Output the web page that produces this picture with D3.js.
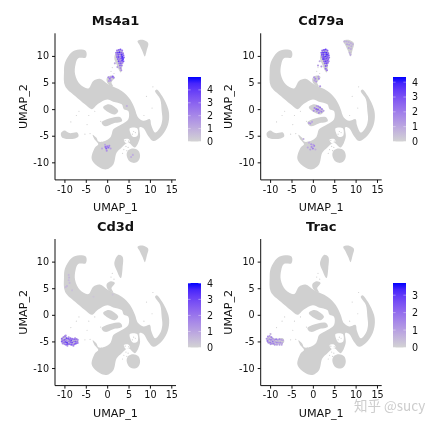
<!DOCTYPE html>
<html>
<head>
<meta charset="utf-8">
<script src="https://cdn.jsdelivr.net/npm/d3@7"></script>
<style>
html, body { margin: 0; padding: 0; background: #fff; }
svg { display: block; filter: blur(0.3px); }
text { font-family: "DejaVu Sans", sans-serif; fill: #111; }
</style>
</head>
<body>
<svg id="chart" width="438" height="425"></svg>
<script>
const genes = ['Ms4a1', 'Cd79a', 'Cd3d', 'Trac'];
const legendMax = [5.0, 4.35, 4.02, 3.7];
const legendTicks = [[0, 1, 2, 3, 4], [0, 1, 2, 3, 4], [0, 1, 2, 3, 4], [0, 1, 2, 3]];
const xTicks = [-10, -5, 0, 5, 10, 15];
const yTicks = [-10, -5, 0, 5, 10];

// outlines of the cell clouds in UMAP units
const bandOutline = [[-4.95,10.9],[-5,9.7],[-6.75,9.55],[-7.4,8.4],[-7.5,6.55],[-6.35,4.66],[-4.4,3.9],[-3.25,5.3],[-1.7,5.7],[0.25,4.66],[3.4,3.4],[5.35,1.85],[6.5,0],[6.9,-1],[7.3,-1.6],[8.5,-2.2],[10,-1.9],[10.3,-3],[11.2,-4.4],[12.4,-3.4],[12.9,-1.9],[12.75,-0.35],[12.4,1.85],[11.2,3.4],[11.6,3.7],[12.9,2.4],[14.3,0],[14.5,-1.55],[14,-3.4],[12.4,-5.3],[10.8,-6],[9.6,-5.05],[8.5,-3.6],[7.6,-3.4],[7.68,-5.3],[6.5,-7.2],[5,-6.3],[4.2,-6.6],[3.4,-7.2],[2.2,-8.2],[1.44,-10.4],[-0.1,-11.3],[-1.67,-11],[-3.6,-9.4],[-2.84,-7.2],[-2.07,-6.6],[-3,-5.6],[-3.4,-4.8],[-2.5,-5.4],[-2.07,-6.1],[-0.5,-6],[0.7,-5.35],[1.06,-4.7],[1.44,-3.8],[3.4,-2.85],[4.95,-1.9],[4.95,-0.35],[3.9,0],[3.4,0.9],[1.4,1.4],[0,1.8],[-2.1,1],[-3.6,0],[-5.2,0.9],[-7.5,2.45],[-9.85,4.35],[-10.1,6.9],[-9.85,8.75],[-8.3,10.7],[-6.5,11.2]];
const circleOutline = [[4.55,-8.5],[5,-7.7],[6.1,-7.4],[7.3,-7.8],[7.7,-8.8],[7.2,-9.8],[6.1,-10.1],[5,-9.6]];
const islandOutline = [[-1.3,-2.5],[-0.1,-1.9],[3,-1.5],[3.5,-2.25],[1.4,-2.7],[-0.5,-3.2]];
const innerOutline = [[0.3,0.9],[1.4,0.6],[2.6,-0.35],[1.8,-1],[0.3,-0.6],[-0.95,0.35]];
const leftOutline = [[-10.8,-4.5],[-10,-4],[-8.8,-4.5],[-7,-4.4],[-6.7,-5.1],[-7.5,-5.5],[-9.5,-5.6],[-10.6,-5.3]];
const topOutline = [[7.1,12.8],[8.5,13],[9.6,12.4],[9.3,11.2],[8.8,9.9],[8.3,10.8],[7.6,12]];
const clusterOutline = [[1.67,9.7],[2.6,11.25],[3.6,10.9],[3.6,8.75],[3.2,6.9],[2.2,8.4]];
const smallOutline = [[-0.1,5.8],[0.9,6.3],[1.8,6],[1,5],[1.4,4.3],[0.6,4.5],[0,5]];
const cloudOutlines = [bandOutline, circleOutline, islandOutline, innerOutline, leftOutline, topOutline, clusterOutline, smallOutline];

// white gaps inside the clouds
const gapOutlines = [
  [[5.3,-3.6],[7,-3.6],[7.1,-5],[6,-5.2],[5.4,-4.4]],
  [[3.9,-5.7],[5,-5.6],[5.3,-6.1],[4.4,-6.4]]
];

const strayCells = [[-6.6,-0.4],[-7.2,-1.2],[-8.5,-2.4],[-4.3,-1.2],[-4.7,-2.9],[-4,-4.6],[-5.2,-4.7],[1.2,7.8],[1.6,6.7],[0.9,7.1],[9.2,2.4],[10.7,4.2],[8.6,-1.2],[-2.9,-0.4],[-1.5,-2.3],[10.5,0.2],[6.2,-4.2],[5.9,-4.7],[6.6,-4.4],[4.4,-7],[4.9,-7.2],[3.9,-7.6],[4.6,-7.8],[3.6,-8.3],[4.2,-5.9],[5,-6]];

// expressing cells: [UMAP_1, UMAP_2] with the expression in a matching list
const ms4a1Cells = [[2.3,11],[2.7,11.1],[3.1,11.2],[3.5,11],[2.1,10.6],[2.5,10.6],[2.9,10.7],[3.3,10.6],[3.7,10.5],[2.2,10.2],[2.6,10.2],[3,10.3],[3.4,10.2],[3.8,10.1],[2.3,9.8],[2.7,9.8],[3.1,9.9],[3.5,9.8],[3.9,9.7],[2.5,9.4],[2.9,9.4],[3.3,9.5],[3.7,9.4],[2.7,9],[3.1,9],[3.5,9.1],[3.8,9],[2.8,8.6],[3.2,8.6],[3.6,8.7],[3,8.2],[3.4,8.2],[3.1,7.7],[3.3,7.3],[1.8,8.6],[2.4,7.9],[0.3,6],[0.6,5.7],[0.8,5.4],[1.3,6.1],[1.5,5.9],[0.4,5.3],[0.9,6],[-0.4,-7.1],[-0.2,-7.4],[0,-7],[0.3,-7.2],[-0.1,-7.8],[0.5,-6.9],[-0.5,-6.7],[-1.2,-7.4],[0.8,-7.4],[6,-8.6],[5.6,-9],[4.6,0.6]];
const ms4a1Values = [2.2,2.8,3.4,2.4,2.6,3.6,4.4,3,2.4,2,3.2,2.6,4.2,3,2.8,3.8,2.4,4.6,3.2,3,2.2,3.6,4.4,3.8,2.6,4,3.4,2.4,3.2,2,2.8,2.4,2,1.8,1.2,1.4,2,2.6,1.6,3,2.2,1.4,1.8,2.6,3.2,2.2,2.8,1.8,2,1.2,1.2,1.4,1,1,1];
const cd79aCells = [[2.2,11],[2.6,11.1],[3,11.2],[3.4,11],[2,10.6],[2.4,10.6],[2.8,10.7],[3.2,10.6],[3.6,10.5],[2.1,10.2],[2.5,10.2],[2.9,10.3],[3.3,10.2],[3.7,10.1],[2.2,9.8],[2.6,9.8],[3,9.9],[3.4,9.8],[3.8,9.7],[2.4,9.4],[2.8,9.4],[3.2,9.5],[3.6,9.4],[2.6,9],[3,9],[3.4,9.1],[3.7,9],[2.8,8.6],[3.2,8.6],[3.5,8.7],[3,8.1],[3.3,8.2],[3,7.6],[3.3,7.3],[1.6,9],[1.2,8.2],[2,8],[0.3,6],[0.6,5.7],[0.8,5.2],[1.3,6.1],[1.4,5.7],[0.4,5.4],[1.7,4.3],[7.4,12.7],[7.9,12.7],[8.4,12.6],[8.9,12.4],[9.3,12.2],[8,12.2],[8.5,12.1],[9,11.8],[8.4,11.5],[8.9,11.3],[8.6,10.6],[8.8,10.2],[0.9,0.6],[1.3,0.5],[1.7,0.3],[2.1,0],[2.5,-0.3],[0.4,0.2],[0.8,0],[1.2,-0.1],[1.6,-0.3],[2,-0.5],[1.4,-0.7],[0.9,-0.4],[0.2,-0.3],[-0.6,-2.7],[-0.2,-2.4],[-0.9,-2.6],[-0.6,-7.6],[-0.3,-7.1],[0,-7.4],[0.3,-6.9],[-0.4,-6.6],[0.1,-6.7],[-1.2,-7.2],[0.6,-7.6],[-0.9,-6.3],[-2.2,-5.6]];
const cd79aValues = [2.4,3,3.4,2.6,2.8,3.6,3.2,3.8,2.4,3,3.4,2.6,3.8,3,2.6,3.4,3.8,2.8,2.4,3.6,3,3.2,2.6,2.4,3.4,3,2,2.6,3.2,2.2,2.8,2,2.4,2,1,1.2,1.4,1.4,1.8,1.4,1.2,1.6,1.2,1.4,0.9,0.9,0.8,0.8,0.8,1,1,0.9,1.1,0.9,0.8,0.9,1.2,1.8,2.2,1.6,1.2,1.8,2.4,2.6,1.4,2,1.8,1.4,1.6,1.4,1,1.2,1.2,1.6,2,1.8,1.4,1.2,1,0.8,0.8,0.8];
const cd3dCells = [[-10.6,-4.5],[-10.2,-4.2],[-9.8,-4],[-9.5,-4.4],[-10.3,-4.8],[-9.9,-4.7],[-9.5,-4.8],[-9.1,-4.5],[-8.8,-4.7],[-8.4,-4.8],[-8,-4.6],[-7.6,-4.6],[-7.2,-4.6],[-6.9,-4.7],[-10.6,-5],[-10.2,-5.2],[-9.8,-5.1],[-9.4,-5.2],[-9,-5],[-8.6,-5.1],[-8.2,-5.2],[-7.8,-5],[-7.4,-5],[-7,-5.1],[-10,-5.5],[-9.6,-5.6],[-9.2,-5.5],[-8.8,-5.5],[-8.4,-5.6],[-8,-5.6],[-7.6,-5.5],[-7.3,-5.4],[-6.9,-5.3],[-10.4,-5.4],[-9,-4.2],[-8.2,-4.5],[-9.7,-3.9],[-7.5,-4.4],[-8.6,-4.4],[-9.3,-5.8],[-7.9,-5.8],[-9,7.5],[-8.9,7],[-9,6.5],[-8.8,6],[-9.4,5.4],[-9.7,5.2],[-8.2,4.6],[-3.2,3.4],[1.3,3.8]];
const cd3dValues = [2.2,1.8,2.4,3,2,2.6,1.6,2.8,2.2,3,1.8,2.4,2,1.6,2.6,2,2.8,3.2,1.8,2.4,2.8,1.8,2.6,2,1.6,2.4,3,2,2.6,1.8,2.2,2.6,1.8,1.6,1.4,2,1.4,1.6,2.2,1.4,1.6,0.5,0.6,0.5,0.5,0.6,0.5,0.4,0.3,0.3];
const tracCells = [[-10.8,-4.5],[-10.5,-4.1],[-10.1,-4],[-9.7,-4.2],[-9.4,-4.5],[-10.6,-4.9],[-10.2,-4.6],[-9.8,-4.7],[-9.4,-5],[-9,-4.7],[-8.6,-4.6],[-8.2,-4.7],[-7.8,-4.6],[-7.4,-4.7],[-7,-4.8],[-10.4,-5.2],[-10,-5.2],[-9.6,-5.4],[-9.2,-5.4],[-8.8,-5.1],[-8.4,-5.2],[-8,-5.2],[-7.6,-5.2],[-7.2,-5.3],[-9.9,-5.5],[-8.9,-5.6],[-8.4,-5.6],[-7.8,-5.6],[-7.3,-5.6],[-9.9,-3.6]];
const tracValues = [1.2,1.4,1,1.6,1.2,1.8,1.2,1.6,1.9,1.2,1.8,1,1.4,1,0.9,1.4,1.8,1.4,1.7,1,1.5,1.1,1.3,0.9,1.2,1.2,1,1.1,0.9,0.6];
const cellLists = [ms4a1Cells, cd79aCells, cd3dCells, tracCells];
const valueLists = [ms4a1Values, cd79aValues, cd3dValues, tracValues];

const grey = '#d0d0d0';
const svg = d3.select('#chart');
const defs = svg.append('defs');
const panelLefts = [55, 260.7];
const panelTops = [33.3, 239];
const panelW = 121;
const panelH = 146.6;
const barLefts = [188, 393];
const barTops = [77, 283];
const barH = 64.5;
const barW = 13;

genes.forEach((gene, i) => {
    const col = i % 2;
    const row = Math.floor(i / 2);
    const left = panelLefts[col];
    const top = panelTops[row];

    const g = svg.append('g').attr('transform', `translate(${left},${top})`);
    const x = d3.scaleLinear().domain([-12.2, 16.1]).range([0, panelW]);
    const y = d3.scaleLinear().domain([-13.3, 14.25]).range([panelH, 0]);
    // Seurat's gradient runs through Lab, which is why the middle looks purple
    const color = d3.scaleLinear().domain([0, legendMax[i]]).range(['lightgrey', 'blue']).interpolate(d3.interpolateLab);

    const outline = d3.line().x(d => x(d[0])).y(d => y(d[1])).curve(d3.curveCatmullRomClosed.alpha(0.5));
    g.selectAll('.cloud').data(cloudOutlines).enter().append('path')
        .attr('class', 'cloud').attr('d', outline).attr('fill', grey);
    g.selectAll('.gap').data(gapOutlines).enter().append('path')
        .attr('class', 'gap').attr('d', outline).attr('fill', '#fff');
    g.selectAll('.stray').data(strayCells).enter().append('circle')
        .attr('class', 'stray').attr('cx', d => x(d[0])).attr('cy', d => y(d[1]))
        .attr('r', 0.6).attr('fill', grey);

    g.selectAll('.cell').data(cellLists[i]).enter().append('circle')
        .attr('class', 'cell').attr('cx', d => x(d[0])).attr('cy', d => y(d[1]))
        .attr('r', 1.05).attr('fill', (d, j) => color(valueLists[i][j]));

    const hyphen = d => String(d);
    const xAxis = g.append('g').attr('transform', `translate(0,${panelH})`)
        .call(d3.axisBottom(x).tickValues(xTicks).tickFormat(hyphen).tickSize(3).tickPadding(3));
    const yAxis = g.append('g')
        .call(d3.axisLeft(y).tickValues(yTicks).tickFormat(hyphen).tickSize(3).tickPadding(3));
    [xAxis, yAxis].forEach(axis => {
        axis.select('.domain').attr('d', axis === xAxis ? `M0,0H${panelW}` : `M0,0V${panelH}`).attr('stroke', '#111');
        axis.selectAll('line').attr('stroke', '#111');
        axis.selectAll('text').attr('font-size', 9.6).attr('font-family', '"DejaVu Sans"').attr('fill', '#111');
    });

    g.append('text').attr('x', panelW / 2).attr('y', panelH + 31)
        .attr('text-anchor', 'middle').attr('font-size', 11.2).text('UMAP_1');
    g.append('text').attr('transform', `translate(-28.5,${panelH / 2}) rotate(-90)`)
        .attr('text-anchor', 'middle').attr('font-size', 11.2).text('UMAP_2');
    g.append('text').attr('x', panelW / 2).attr('y', -8.3)
        .attr('text-anchor', 'middle').attr('font-size', 13).attr('font-weight', 'bold').text(gene);

    // colour bar
    const barId = `bar${i}`;
    defs.append('linearGradient').attr('id', barId).attr('x1', 0).attr('x2', 0).attr('y1', 1).attr('y2', 0)
        .selectAll('stop').data(d3.range(0, 1.01, 0.1)).enter().append('stop')
        .attr('offset', d => d).attr('stop-color', d => color(d * legendMax[i]));
    const legend = svg.append('g').attr('transform', `translate(${barLefts[col]},${barTops[row]})`);
    const barScale = d3.scaleLinear().domain([0, legendMax[i]]).range([barH, 0]);
    legend.append('rect').attr('width', barW).attr('height', barH).attr('fill', `url(#${barId})`);
    legend.selectAll('.mark').data(legendTicks[i]).enter().append('path')
        .attr('class', 'mark').attr('stroke', '#fff').attr('stroke-width', 0.4)
        .attr('d', d => `M0,${barScale(d)}h2.6M${barW - 2.6},${barScale(d)}h2.6`);
    legend.selectAll('.tick-label').data(legendTicks[i]).enter().append('text')
        .attr('class', 'tick-label').attr('x', barW + 6).attr('y', d => barScale(d)).attr('dy', '0.36em')
        .attr('font-size', 9.6).text(d => d);
});

svg.append('text').attr('x', 354).attr('y', 411)
    .style('font-family', '"Noto Sans CJK SC", "Noto Sans"').style('fill', '#cdcdcd')
    .attr('font-size', 13.5).text('知乎 @sucy');
</script>
</body>
</html>
